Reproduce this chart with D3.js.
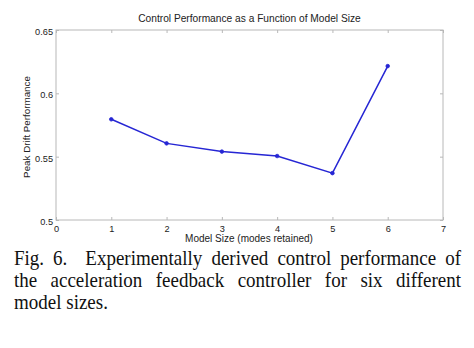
<!DOCTYPE html>
<html><head><meta charset="utf-8">
<script src="https://cdn.jsdelivr.net/npm/d3@7"></script>
<style>html,body{margin:0;padding:0;background:#fff;}svg{display:block;}</style>
</head><body>
<svg id="c" width="474" height="348"></svg>
<script>
const modelSize = [1, 2, 3, 4, 5, 6];
const peakDrift = [0.5795, 0.5605, 0.5540, 0.5505, 0.5370, 0.6215];
const xTicks = [0, 1, 2, 3, 4, 5, 6, 7];
const yTicks = [0.5, 0.55, 0.6, 0.65];
const yTickLabels = ["0.5", "0.55", "0.6", "0.65"];
const titleText = "Control Performance as a Function of Model Size";
const xLabel = "Model Size (modes retained)";
const yLabel = "Peak Drift Performance";
const captionLines = [
  "Fig. 6.  Experimentally derived control performance of",
  "the acceleration feedback controller for six different",
  "model sizes."
];

const svg = d3.select("#c");
const L = 56, R = 443, T = 30, B = 220;
const x = d3.scaleLinear().domain([0, 7]).range([L, R]);
const y = d3.scaleLinear().domain([0.5, 0.65]).range([B, T]);
const grey = "#b8b8b8";
const sans = "'Liberation Sans', Arial, sans-serif";

// box
svg.append("rect").attr("x", L).attr("y", T).attr("width", R - L).attr("height", B - T)
  .attr("fill", "none").attr("stroke", grey).attr("stroke-width", 1);

const tl = 3;
const xb = svg.append("g").attr("transform", `translate(0,${B})`)
  .call(d3.axisBottom(x).tickValues(xTicks).tickFormat(d3.format("d")).tickSizeInner(-tl).tickSizeOuter(0).tickPadding(5));
const xt = svg.append("g").attr("transform", `translate(0,${T})`)
  .call(d3.axisTop(x).tickValues(xTicks).tickFormat("").tickSizeInner(-tl).tickSizeOuter(0));
const yl = svg.append("g").attr("transform", `translate(${L},0)`)
  .call(d3.axisLeft(y).tickValues(yTicks).tickFormat((d, i) => yTickLabels[i]).tickSizeInner(-tl).tickSizeOuter(0).tickPadding(3));
const yr = svg.append("g").attr("transform", `translate(${R},0)`)
  .call(d3.axisRight(y).tickValues(yTicks).tickFormat("").tickSizeInner(-tl).tickSizeOuter(0));
[xb, xt, yl, yr].forEach(g => {
  g.select(".domain").remove();
  g.selectAll(".tick line").attr("stroke", grey);
  g.selectAll("text").attr("fill", "#222").style("font-family", sans).style("font-size", "9.2px");
});
xb.selectAll("text").attr("dy", "0.71em");
yl.selectAll("text").attr("dy", "0.5em");

// line
const line = d3.line().x((d, i) => x(modelSize[i])).y(d => y(d));
svg.append("path").datum(peakDrift).attr("d", line)
  .attr("fill", "none").attr("stroke", "#2626d4").attr("stroke-width", 1.5);
svg.selectAll("circle.pt").data(peakDrift).enter().append("circle")
  .attr("cx", (d, i) => x(modelSize[i])).attr("cy", d => y(d)).attr("r", 1.8)
  .attr("fill", "#2626d4").attr("stroke", "#2626d4").attr("stroke-width", 0.8);

// titles
svg.append("text").attr("x", 249.5).attr("y", 22).attr("text-anchor", "middle")
  .style("font-family", sans).style("font-size", "10.2px").attr("fill", "#222").text(titleText);
svg.append("text").attr("x", 249).attr("y", 241.5).attr("text-anchor", "middle")
  .style("font-family", sans).style("font-size", "10px").attr("fill", "#222").text(xLabel);
svg.append("text").attr("transform", "translate(30,127) rotate(-90)").attr("text-anchor", "middle")
  .style("font-family", sans).style("font-size", "9.8px").attr("fill", "#222").text(yLabel);

// caption (justified)
const serif = "'Liberation Serif', 'Times New Roman', serif";
const capL = 14, capR = 461, baseY = [265, 287, 309], fs = 19;
captionLines.forEach((ln, li) => {
  const tokens = ln.split(/ +/);
  const g = svg.append("g");
  const texts = tokens.map(w => g.append("text")
    .style("font-family", serif).style("font-size", fs + "px").attr("fill", "#111").text(w));
  const widths = texts.map(t => t.node().getComputedTextLength());
  const justify = li < captionLines.length - 1;
  const gapW = (ln.match(/ +/g) || []).map(s => s.length);
  const sumW = d3.sum(widths);
  const unit = justify ? (capR - capL - sumW) / d3.sum(gapW) : fs * 0.25;
  let cx = capL;
  texts.forEach((t, i) => {
    t.attr("transform", `translate(${cx},${baseY[li]}) scale(1,1.12)`);
    cx += widths[i] + (i < gapW.length ? gapW[i] * unit : 0);
  });
});
</script>
</body></html>
